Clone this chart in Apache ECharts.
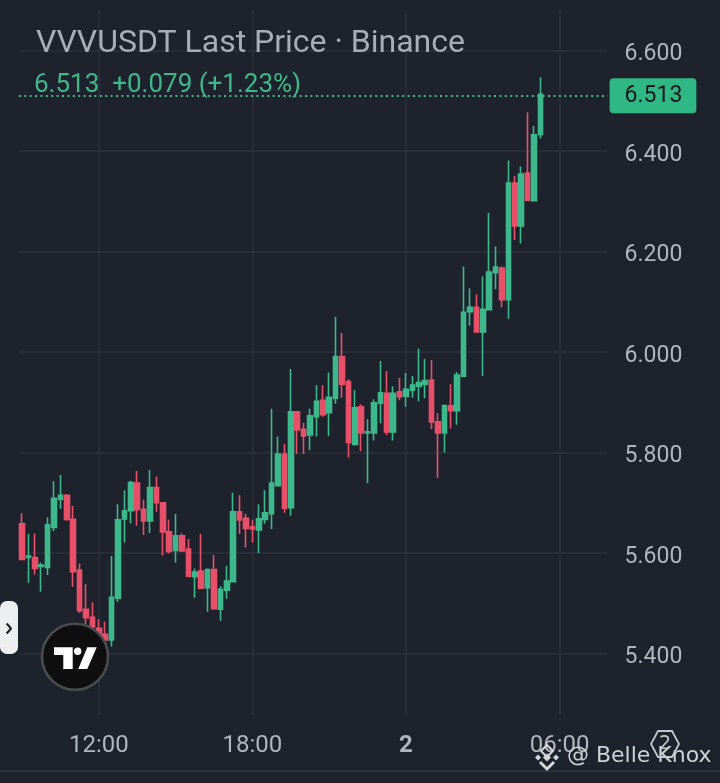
<!DOCTYPE html>
<html><head><meta charset="utf-8">
<style>html,body{margin:0;padding:0;background:#1e222d}#c{width:720px;height:783px}</style>
<script src="https://cdn.jsdelivr.net/npm/echarts@6/dist/echarts.min.js"></script>
</head><body><div id="c"></div>
<script>
const opens=[5.658,5.591,5.591,5.573,5.571,5.651,5.707,5.715,5.667,5.566,5.488,5.472,5.450,5.438,5.427,5.510,5.668,5.684,5.739,5.687,5.664,5.730,5.700,5.642,5.605,5.634,5.608,5.553,5.564,5.531,5.567,5.488,5.526,5.543,
5.682,5.669,5.652,5.646,5.667,5.678,5.734,5.797,5.690,5.881,5.846,5.835,5.871,5.904,5.879,5.908,5.991,5.941,5.816,5.891,5.839,5.839,5.898,5.918,5.841,5.921,5.912,5.924,5.932,5.936,5.944,5.861,5.839,5.893,5.883,
5.952,6.080,6.089,6.040,6.084,6.158,6.167,6.104,6.336,6.251,6.356,6.301,6.433];
const closes=[5.587,5.594,5.569,5.576,5.656,5.709,5.715,5.667,5.563,5.485,5.471,5.453,5.437,5.427,5.512,5.666,5.684,5.740,5.686,5.664,5.730,5.700,5.642,5.603,5.634,5.604,5.554,5.562,5.530,5.567,5.489,5.528,5.544,5.682,
5.666,5.649,5.648,5.668,5.680,5.739,5.797,5.689,5.881,5.845,5.833,5.873,5.902,5.875,5.910,5.991,5.936,5.820,5.889,5.839,5.841,5.899,5.919,5.841,5.918,5.911,5.926,5.934,5.939,5.943,5.861,5.839,5.893,5.883,5.954,
6.079,6.089,6.040,6.085,6.159,6.169,6.104,6.336,6.251,6.354,6.302,6.432,6.513];
const lows=[5.586,5.541,5.557,5.523,5.556,5.644,5.688,5.664,5.533,5.481,5.458,5.444,5.427,5.420,5.414,5.503,5.621,5.659,5.654,5.636,5.640,5.682,5.595,5.599,5.581,5.603,5.553,5.511,5.530,5.483,5.487,5.465,5.509,5.543,
5.638,5.611,5.621,5.600,5.658,5.648,5.734,5.680,5.674,5.797,5.797,5.805,5.832,5.871,5.833,5.897,5.909,5.790,5.814,5.803,5.739,5.824,5.858,5.835,5.824,5.904,5.891,5.909,5.902,5.908,5.847,5.749,5.800,5.848,5.855,
5.951,6.052,6.040,5.952,6.084,6.125,6.089,6.066,6.223,6.216,6.301,6.301,6.425];
const highs=[5.679,5.638,5.639,5.581,5.671,5.743,5.755,5.717,5.694,5.579,5.538,5.502,5.468,5.463,5.594,5.697,5.725,5.744,5.763,5.706,5.765,5.752,5.700,5.666,5.678,5.639,5.628,5.569,5.638,5.569,5.596,5.534,5.574,5.720,
5.715,5.678,5.666,5.697,5.725,5.887,5.832,5.817,5.966,5.881,5.859,5.887,5.934,5.934,5.959,6.070,6.038,5.946,5.924,5.896,5.866,5.906,5.982,5.962,5.932,5.949,5.958,5.952,6.007,5.986,5.984,5.878,5.896,5.936,5.960,
6.170,6.127,6.115,6.150,6.277,6.210,6.170,6.381,6.350,6.369,6.477,6.450,6.547];
const priceTicks=[5.4,5.6,5.8,6.0,6.2,6.4,6.6];
const timeTicks=['12:00','18:00','2','06:00'];
const lastPrice=6.513;
const titleText='VVVUSDT Last Price · Binance';
const statusText='6.513  +0.079 (+1.23%)';

// 15-minute slots, first one at 09:00, last ten are empty space on the right
const categories=[];
for(let i=0;i<92;i++){
  const m=(9*60+15*i)%1440;
  const s=String(Math.floor(m/60)).padStart(2,'0')+':'+String(m%60).padStart(2,'0');
  categories.push(s==='00:00'?'2':s);
}
const candles=opens.map((o,i)=>[o,closes[i],lows[i],highs[i]]);

const BG='#1e222d',GRID='#2c303b',TXT='#b2b5be',UP='#3db88d',DOWN='#e8506a',FONT='Roboto';
const isTick=(i,v)=>timeTicks.includes(v);

const chart=echarts.init(document.getElementById('c'),null,{renderer:'canvas'});
chart.setOption({
  animation:false,
  backgroundColor:BG,
  grid:{left:18.8,right:112.4,top:10,bottom:68},
  xAxis:{type:'category',data:categories,boundaryGap:true,
    axisLine:{show:false},axisTick:{show:false},
    splitLine:{show:true,alignWithLabel:true,interval:isTick,lineStyle:{color:GRID,width:1.5}},
    axisLabel:{show:true,interval:isTick,hideOverlap:false,margin:19,color:TXT,fontFamily:FONT,fontSize:24,
      formatter:v=>v==='2'?'{b|2}':v,
      rich:{b:{fontWeight:'bold',fontSize:24,color:TXT,fontFamily:FONT}}}},
  yAxis:{type:'value',position:'right',min:5.2776,max:6.6806,scale:true,
    axisLine:{show:false},
    axisTick:{show:false,customValues:priceTicks},
    splitLine:{show:true,lineStyle:{color:GRID,width:1.5}},
    axisLabel:{customValues:priceTicks,margin:17,color:TXT,fontFamily:FONT,fontSize:23,
      formatter:v=>'{p|'+v.toFixed(3)+'}',
      rich:{p:{color:TXT,fontFamily:FONT,fontSize:23,padding:[8,0,0,0]}}}},
  series:[{type:'candlestick',data:candles,barWidth:5,
    itemStyle:{color:UP,color0:DOWN,borderColor:UP,borderColor0:DOWN,borderWidth:1.6},
    markLine:{silent:true,symbol:'none',animation:false,
      lineStyle:{color:UP,type:[2,3.4],width:2,opacity:1},
      label:{show:true,position:'end',distance:2,formatter:'{p|'+lastPrice.toFixed(3)+'}',
        backgroundColor:'#2fb884',borderRadius:4,padding:[4,14,5,15],
        rich:{p:{color:'#13171f',fontFamily:FONT,fontSize:23,padding:[3,0,0,0]}}},
      data:[{yAxis:lastPrice}]}}],
  graphic:[
    {type:'text',left:36,top:28,z:50,style:{text:titleText,font:'32px '+FONT,fill:'#a9adb8'}},
    {type:'text',left:34,top:72,z:50,style:{text:statusText,font:'26px '+FONT,fill:UP}},
    {type:'line',z:1,shape:{x1:0,y1:771,x2:720,y2:771},style:{stroke:'#3a3f4a',lineWidth:1}},
    // collapse tab
    {type:'rect',z:60,shape:{x:0,y:601,width:18,height:53,r:7},style:{fill:'#eceef0'}},
    {type:'polyline',z:61,shape:{points:[[6.7,623.5],[11,628.5],[6.7,633.5]]},style:{stroke:'#1a1c20',lineWidth:2,fill:null}},
    // TradingView badge
    {type:'circle',z:60,shape:{cx:75,cy:656.7,r:33},style:{fill:'#0f0f10',stroke:'#4a4c50',lineWidth:2.5}},
    {type:'polygon',z:61,shape:{points:[[54,647.3],[72.7,647.3],[72.7,669],[63.3,669],[63.3,655],[54,655]]},style:{fill:'#fff'}},
    {type:'circle',z:61,shape:{cx:77.7,cy:651.3,r:3.7},style:{fill:'#fff'}},
    {type:'polygon',z:61,shape:{points:[[87.3,647.3],[96.7,647.3],[87.3,669],[78.3,669]]},style:{fill:'#fff'}},
    // watermark
    {type:'polygon',z:62,shape:{points:[[547,745],[553,751],[547,757],[541,751]]},style:{fill:null,stroke:'#d5d7da',lineWidth:2}},
    {type:'polygon',z:62,shape:{points:[[547,753.5],[551,757.5],[547,761.5],[543,757.5]]},style:{fill:'#d5d7da'}},
    {type:'polygon',z:62,shape:{points:[[538,754.5],[541,757.5],[538,760.5],[535,757.5]]},style:{fill:'#d5d7da'}},
    {type:'polygon',z:62,shape:{points:[[556,754.5],[559,757.5],[556,760.5],[553,757.5]]},style:{fill:'#d5d7da'}},
    {type:'polyline',z:62,shape:{points:[[540,762],[547,769],[554,762]]},style:{fill:null,stroke:'#d5d7da',lineWidth:3}},
    {type:'text',left:567,top:745,z:62,style:{text:'@ Belle Knox',font:'22px "DejaVu Sans"',fill:'#cfd2d6'}},
    {type:'polygon',z:62,shape:{points:[[658,731],[672,731],[679,744],[672,757],[658,757],[651,744]]},style:{fill:null,stroke:'#c4c7cc',lineWidth:1.8}},
    {type:'text',x:665,y:744,z:62,style:{text:'2',font:'19px "DejaVu Sans"',fill:'#c4c7cc',textAlign:'center',textVerticalAlign:'middle'}}
  ]
});
</script></body></html>
